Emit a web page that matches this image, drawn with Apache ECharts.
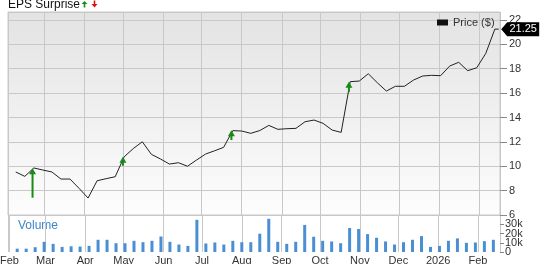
<!DOCTYPE html>
<html><head><meta charset="utf-8">
<script src="https://cdn.jsdelivr.net/npm/echarts@6/dist/echarts.min.js"></script>
<style>html,body{margin:0;padding:0;background:#fff}#c{width:541px;height:264px}</style>
</head><body><div id="c"></div>
<script>
const weekDates = ['2025-02-07','2025-02-14','2025-02-21','2025-02-28','2025-03-07','2025-03-14','2025-03-21','2025-03-28',
'2025-04-04','2025-04-11','2025-04-18','2025-04-25','2025-05-02','2025-05-09','2025-05-16','2025-05-23','2025-05-30',
'2025-06-06','2025-06-13','2025-06-20','2025-06-27','2025-07-04','2025-07-11','2025-07-18','2025-07-25',
'2025-08-01','2025-08-08','2025-08-15','2025-08-22','2025-08-29','2025-09-05','2025-09-12','2025-09-19','2025-09-26',
'2025-10-03','2025-10-10','2025-10-17','2025-10-24','2025-10-31','2025-11-07','2025-11-14','2025-11-21','2025-11-28',
'2025-12-05','2025-12-12','2025-12-19','2025-12-26','2026-01-02','2026-01-09','2026-01-16','2026-01-23','2026-01-30',
'2026-02-06','2026-02-13'];
const prices = [9.53,9.17,9.86,9.69,9.53,8.95,8.95,8.19,7.39,8.81,
8.98,9.14,10.78,11.45,12.01,10.98,10.6,10.18,10.29,10.0,
10.51,11.0,11.27,11.55,12.92,12.89,12.7,12.93,13.35,13.03,
13.08,13.11,13.65,13.79,13.52,12.97,12.78,16.94,16.99,17.59,
16.85,16.17,16.56,16.56,17.07,17.4,17.46,17.43,18.22,18.53,
17.84,18.08,19.26,21.25];
const lastDate = '2026-02-16';
const lastPrice = 21.25;
const volumes = [3600,3600,5200,11000,8800,5500,6200,5900,6600,13200,
13200,9500,9500,12100,10600,12100,16800,11000,8100,6600,
34800,9200,10300,8100,12100,10600,10600,19800,35900,11000,
8800,11000,29300,16500,12100,11400,9500,26000,24900,19400,
15400,11400,8100,10600,13200,17200,5500,6600,12100,14700,
9900,10300,11700,13200];
const epsDates = ['2025-02-20','2025-05-01','2025-07-24','2025-10-23'];
const epsTip = [9.83,10.78,12.95,16.94];
const epsTail = [7.42,10.04,12.15,16.1];
const monthLabels = ['Jan','Feb','Mar','Apr','May','Jun','Jul','Aug','Sep','Oct','Nov','Dec'];
const xMin = '2025-02-01', xMax = '2026-02-17';

const FONT = '"Liberation Sans", Arial, sans-serif';
const chart = echarts.init(document.getElementById('c'), null, {renderer:'canvas'});
const grid0Bg = new echarts.graphic.LinearGradient(0,0,0,1,[{offset:0,color:'#e3e3e3'},{offset:1,color:'#fdfdfd'}]);
const splitColor = '#c8c8c8';
function monthFmt(v, i, e){
  const d = new Date(v);
  if (d.getDate() !== 1) return '';
  if (e && e.time && e.time.upperTimeUnit === 'day') return '';
  return d.getMonth()===0 ? String(d.getFullYear()) : monthLabels[d.getMonth()];
}
const volAxisBase = {type:'value', gridIndex:1, position:'right', offset:0, min:0, max:40000, interval:10000,
  axisTick:{show:true, length:4, lineStyle:{color:'#888'}}, axisLine:{show:false}, splitLine:{show:false}};

chart.setOption({
  animation:false,
  textStyle:{fontFamily:FONT},
  grid:[
    {left:8, right:41, top:12, height:203, show:true, backgroundColor:grid0Bg, borderColor:splitColor, borderWidth:1, outerBoundsMode:'none', containLabel:false},
    {left:8, right:41, top:215, height:37, outerBoundsMode:'none', containLabel:false}
  ],
  legend:{data:[{name:'Price ($)', icon:'rect'}], left:437, top:17, padding:0, itemWidth:11, itemHeight:6,
    textStyle:{fontSize:11, color:'#333', fontFamily:FONT}},
  graphic:[
    {type:'text', left:8, top:-1, style:{text:'EPS Surprise', fontSize:12, fill:'#111', fontFamily:FONT}},
    {type:'polygon', shape:{points:[[84.5,1],[81.5,4],[87.5,4]]}, style:{fill:'#1a8a1a'}},
    {type:'rect', shape:{x:83.7,y:3.5,width:1.6,height:4}, style:{fill:'#1a8a1a'}},
    {type:'polygon', shape:{points:[[94.5,7.5],[91.5,4],[97.5,4]]}, style:{fill:'#e01010'}},
    {type:'rect', shape:{x:93.7,y:0.5,width:1.6,height:4}, style:{fill:'#e01010'}},
    {type:'text', left:18, top:220, style:{text:'Volume', fontSize:12, fill:'#3a87c8', fontFamily:FONT}}
  ],
  xAxis:[
    {type:'time', gridIndex:0, min:xMin, max:xMax, splitNumber:13,
      axisLabel:{show:false}, axisTick:{show:false}, axisLine:{show:false},
      splitLine:{show:true, lineStyle:{color:splitColor}}},
    {type:'time', gridIndex:1, min:xMin, max:xMax, splitNumber:13,
      axisLabel:{formatter:monthFmt, fontSize:11, color:'#333', margin:3, align:'center', showMinLabel:true, showMaxLabel:false, hideOverlap:false},
      axisTick:{show:false}, axisLine:{show:false},
      splitLine:{show:true, lineStyle:{color:splitColor}}}
  ],
  yAxis:[
    {type:'value', gridIndex:0, position:'right', min:6, max:22.656, interval:2,
      axisLabel:{showMinLabel:true, showMaxLabel:false, hideOverlap:false, fontSize:11, color:'#333', margin:9},
      axisTick:{show:true, length:7, lineStyle:{color:'#888'}}, axisLine:{show:false},
      splitLine:{show:true, lineStyle:{color:splitColor}}},
    Object.assign({}, volAxisBase, {
      axisLabel:{showMinLabel:false, showMaxLabel:false, hideOverlap:false, fontSize:11, color:'#333', margin:5,
        formatter:v => v===0 ? '' : (v/1000)+'k'}}),
    Object.assign({}, volAxisBase, {
      axisLabel:{showMinLabel:true, showMaxLabel:false, hideOverlap:false, fontSize:11, color:'#333', margin:5,
        formatter:v => v===0 ? '0' : ''}})
  ],
  series:[
    {name:'Price ($)', type:'line', xAxisIndex:0, yAxisIndex:0, showSymbol:false, symbol:'none',
      color:'#111', lineStyle:{color:'#222', width:1},
      data: weekDates.map((d,i)=>[d, prices[i]]).concat([[lastDate, lastPrice]]),
      markPoint:{
        symbol:'path://M0,7 L6,0 L38,0 L38,14 L6,14 Z', symbolSize:[38,14], symbolOffset:[21.5,0],
        itemStyle:{color:'#000'},
        label:{show:true, position:'inside', color:'#fff', fontSize:11, fontFamily:FONT, offset:[3,0],
          formatter:p => Number(p.value).toFixed(2)},
        data:[{coord:[lastDate, lastPrice], value:lastPrice}]
      }},
    {type:'custom', xAxisIndex:0, yAxisIndex:0, clip:false, z:5,
      data: epsDates.map((d,i)=>[d, epsTip[i], epsTail[i]]),
      encode:{x:0, y:[1,2]},
      renderItem:function(params, api){
        const tip = api.coord([api.value(0), api.value(1)]);
        const tail = api.coord([api.value(0), api.value(2)]);
        const hw = 3.5, hh = 6, col = '#178a17';
        return {type:'group', children:[
          {type:'line', shape:{x1:tip[0], y1:tip[1]+hh-1, x2:tail[0], y2:tail[1]}, style:{stroke:col, lineWidth:2}},
          {type:'polygon', shape:{points:[[tip[0],tip[1]],[tip[0]-hw,tip[1]+hh],[tip[0]+hw,tip[1]+hh]]}, style:{fill:col}}
        ]};
      }},
    {type:'bar', xAxisIndex:1, yAxisIndex:1, barWidth:3, itemStyle:{color:'#4a8fd3'},
      data: weekDates.map((d,i)=>[d, volumes[i]])}
  ]
});
</script></body></html>
